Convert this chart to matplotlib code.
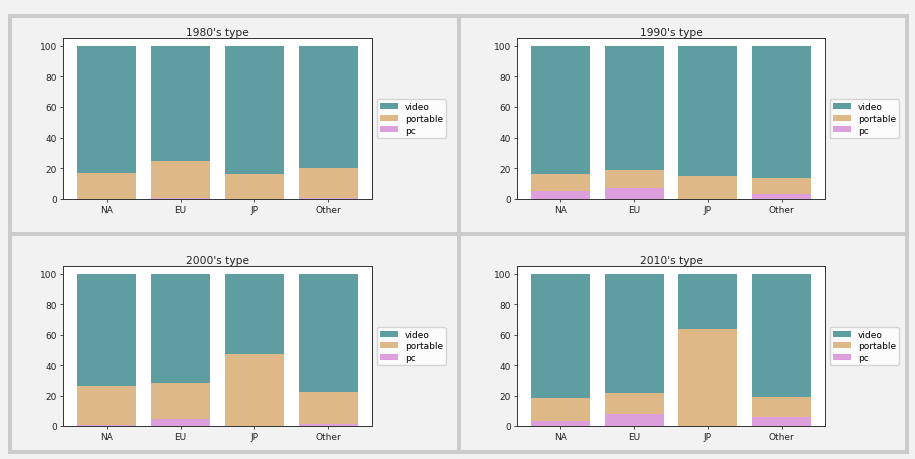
import matplotlib
matplotlib.use("Agg")
import matplotlib.pyplot as plt
from matplotlib.patches import Rectangle
from matplotlib.lines import Line2D

# data: share (%) of each platform type per region and decade
regions = ["NA", "EU", "JP", "Other"]
decades = ["1980's", "1990's", "2000's", "2010's"]

pc_1980 = [0.0, 0.5, 0.0, 0.4]
portable_1980 = [16.8, 24.6, 16.4, 19.7]
video_1980 = [83.2, 74.9, 83.6, 79.9]

pc_1990 = [5.2, 7.0, 0.0, 3.3]
portable_1990 = [11.2, 11.6, 14.8, 10.7]
video_1990 = [83.6, 81.4, 85.2, 86.0]

pc_2000 = [0.9, 4.3, 0.0, 1.3]
portable_2000 = [25.6, 23.7, 47.2, 21.3]
video_2000 = [73.5, 72.0, 52.8, 77.4]

pc_2010 = [3.5, 8.0, 0.0, 6.1]
portable_2010 = [15.0, 13.7, 63.5, 12.8]
video_2010 = [81.5, 78.3, 36.5, 81.1]

pc_all = [pc_1980, pc_1990, pc_2000, pc_2010]
portable_all = [portable_1980, portable_1990, portable_2000, portable_2010]
video_all = [video_1980, video_1990, video_2000, video_2010]

W, H = 915, 460
fig = plt.figure(figsize=(W / 100, H / 100), dpi=100)
fig.patch.set_facecolor("#f2f2f2")

# panel frames (like a grid of images)
bc = "#cbcbcb"
lw = 2.9
def fx(px):
    return px / W
def fy(py):
    return 1 - py / H
fig.add_artist(Rectangle((fx(10), fy(453)), fx(907) - fx(10), fy(17) - fy(453),
                         fill=False, edgecolor=bc, linewidth=lw, transform=fig.transFigure))
fig.add_artist(Line2D([fx(459), fx(459)], [fy(17), fy(453)], color=bc, linewidth=lw,
                      transform=fig.transFigure))
fig.add_artist(Line2D([fx(10), fx(907)], [fy(235), fy(235)], color=bc, linewidth=lw,
                      transform=fig.transFigure))

# axes boxes in pixels: left, top, right, bottom
boxes = [(63, 39, 372, 200), (517, 39, 825, 200),
         (63, 267, 372, 427), (517, 267, 825, 427)]

for i, (l, t, r, b) in enumerate(boxes):
    ax = fig.add_axes([l / W, 1 - b / H, (r - l) / W, (b - t) / H])
    pc = pc_all[i]
    portable = portable_all[i]
    video = video_all[i]
    bottom2 = [a + c for a, c in zip(pc, portable)]
    h1 = ax.bar(regions, pc, color="plum", label="pc")
    h2 = ax.bar(regions, portable, bottom=pc, color="burlywood", label="portable")
    h3 = ax.bar(regions, video, bottom=bottom2, color="cadetblue", label="video")
    ax.set_title(decades[i] + " type", fontsize=7.7, pad=2.5, color="#222222")
    ax.tick_params(labelsize=6.5, length=2.3, width=0.55, pad=2, colors="#222222")
    for s in ax.spines.values():
        s.set_linewidth(0.7)
        s.set_color("#333333")
    ax.legend([h3, h2, h1], ["video", "portable", "pc"], loc="center left",
              bbox_to_anchor=(1, 0.5), fontsize=6.5, edgecolor="#cccccc",
              fancybox=True, labelspacing=0.28, handleheight=0.6,
              borderpad=0.35)

fig.savefig("out.png", dpi=100, facecolor=fig.get_facecolor())
